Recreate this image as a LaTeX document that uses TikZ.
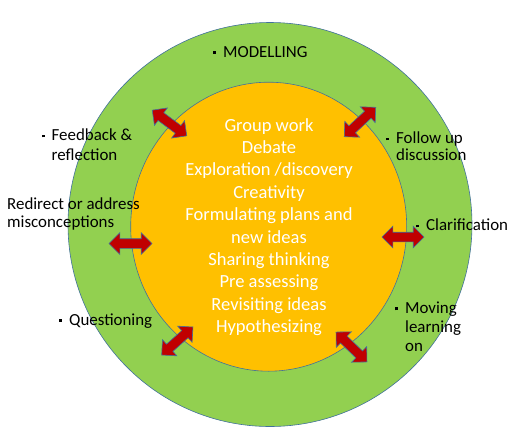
\documentclass[tikz,border=0pt]{standalone}
\usepackage{fontspec}
\setmainfont{Carlito}
\usetikzlibrary{shapes.arrows}
\definecolor{ringgreen}{HTML}{92D050}
\definecolor{coreorange}{HTML}{FFC000}
\definecolor{arrowred}{HTML}{C00000}
\definecolor{edgeblue}{HTML}{41719C}
\newcommand{\sqbullet}{\llap{\rule[3.5pt]{2.8pt}{2.8pt}\hspace{7pt}}}
\begin{document}
\begin{tikzpicture}
           [x=1pt,y=-1pt,
            dblarrow/.style={double arrow,draw=edgeblue,fill=arrowred,line width=0.6pt,
              inner xsep=0pt,inner ysep=4.5pt,minimum width=21pt,minimum height=43pt,double arrow head extend=6pt},
            ringtext/.style={anchor=west,align=left,inner sep=0pt,font=\fontsize{16.9}{19}\selectfont}]
           \useasboundingbox (0,0) rectangle (523,437);

           \draw[edgeblue,fill=ringgreen,line width=0.6pt] (270,224.5) circle [radius=202];
           \draw[edgeblue,fill=coreorange,line width=0.6pt] (268.7,226.7) ellipse [x radius=138,y radius=144.5];

           \node[text=white,align=center,font=\fontsize{18.5}{22.4}\selectfont] (core) at (269,227)
           {Group work\\Debate\\Exploration /discovery\\Creativity\\Formulating plans and\\new ideas\\Sharing thinking\\Pre assessing\\Revisiting ideas\\Hypothesizing};

           \node[dblarrow,rotate=-36.6] (aul) at (169.5,123) {};
           \node[dblarrow,rotate=43] (aur) at (360,122) {};
           \node[dblarrow] (al) at (130.5,243.5) {};
           \node[dblarrow,minimum height=42pt] (ar) at (403,237) {};
           \node[dblarrow,rotate=41.8,minimum height=42pt] (all) at (177.3,341) {};
           \node[dblarrow,rotate=-44] (alr) at (351.5,347) {};

           \node[ringtext] (modelling) at (223,52) {\sqbullet MODELLING};
           \node[ringtext,font=\fontsize{16.9}{20}\selectfont] (feedback) at (51.5,145) {\sqbullet Feedback \&\\reflection};
           \node[ringtext,font=\fontsize{16.9}{17}\selectfont] (followup) at (396,146.5) {\sqbullet Follow up\\discussion};
           \node[ringtext,font=\fontsize{16.9}{18}\selectfont] (redirect) at (7,214) {Redirect or address\\misconceptions};
           \node[ringtext] (clarify) at (426,225) {\sqbullet Clarification};
           \node[ringtext] (question) at (69,321) {\sqbullet Questioning};
           \node[ringtext] (moving) at (405,327) {\sqbullet Moving\\learning\\on};
\end{tikzpicture}
\end{document}
